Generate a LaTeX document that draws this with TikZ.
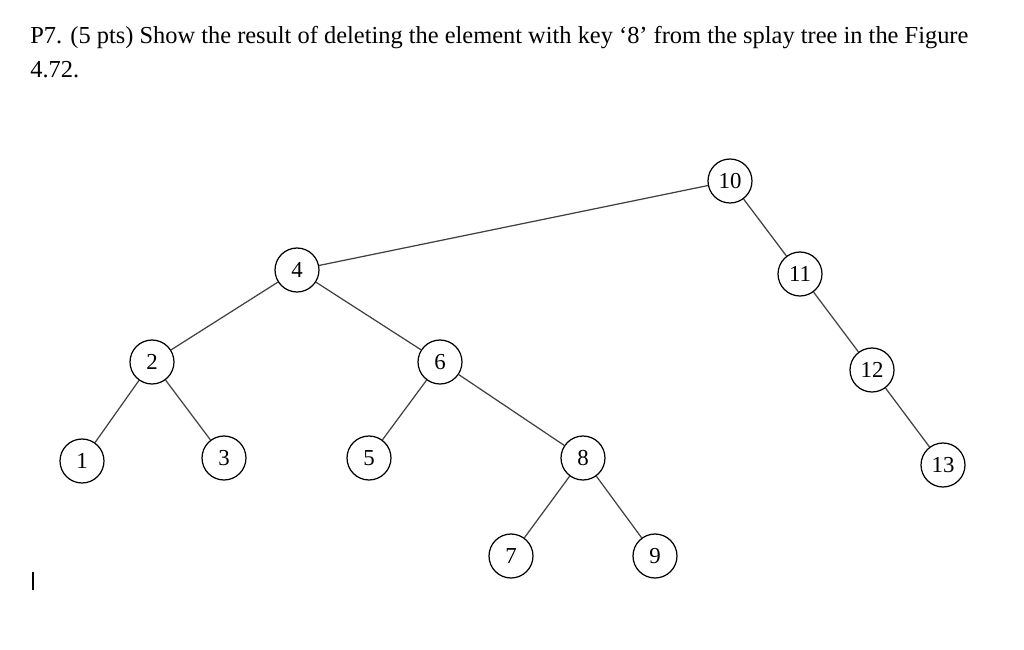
\documentclass[tikz,border=0pt]{standalone}
\usepackage{fontspec}
\setmainfont{Liberation Serif}
\begin{document}
\begin{tikzpicture}[x=0.02cm,y=-0.02cm,
  tn/.style={circle,draw,line width=0.7pt,minimum size=0.88cm,inner sep=0pt,font=\fontsize{13pt}{15pt}\selectfont},
  ed/.style={draw,line width=0.7pt,black!75}]
\useasboundingbox (0,0) rectangle (1024,649);
\node[anchor=base west,font=\fontsize{13.9pt}{16pt}\selectfont,inner sep=0pt] (t1) at (30,43) {P7. (5 pts) Show the result of deleting the element with key ‘8’ from the splay tree in the Figure};
\node[anchor=base west,font=\fontsize{13.9pt}{16pt}\selectfont,inner sep=0pt] (t2) at (30,77) {4.72.};
\node[tn] (n10) at (730,181) {10};
\node[tn] (n4) at (297,270) {4};
\node[tn] (n11) at (800,274) {11};
\node[tn] (n2) at (152,362) {2};
\node[tn] (n6) at (440,362) {6};
\node[tn] (n12) at (872,370) {12};
\node[tn] (n1) at (82,461) {1};
\node[tn] (n3) at (224,458) {3};
\node[tn] (n5) at (369,458) {5};
\node[tn] (n8) at (583,458) {8};
\node[tn] (n13) at (943,465) {13};
\node[tn] (n7) at (511,556) {7};
\node[tn] (n9) at (655,556) {9};
\foreach \a/\b in {n10/n4,n10/n11,n11/n12,n12/n13,n4/n2,n4/n6,n2/n1,n2/n3,n6/n5,n6/n8,n8/n7,n8/n9}
  \path[ed] (\a) -- (\b);
\coordinate (c1) at (33,572);
\coordinate (c2) at (33,590);
\draw[line width=0.8pt] (c1) -- (c2);
\end{tikzpicture}
\end{document}
